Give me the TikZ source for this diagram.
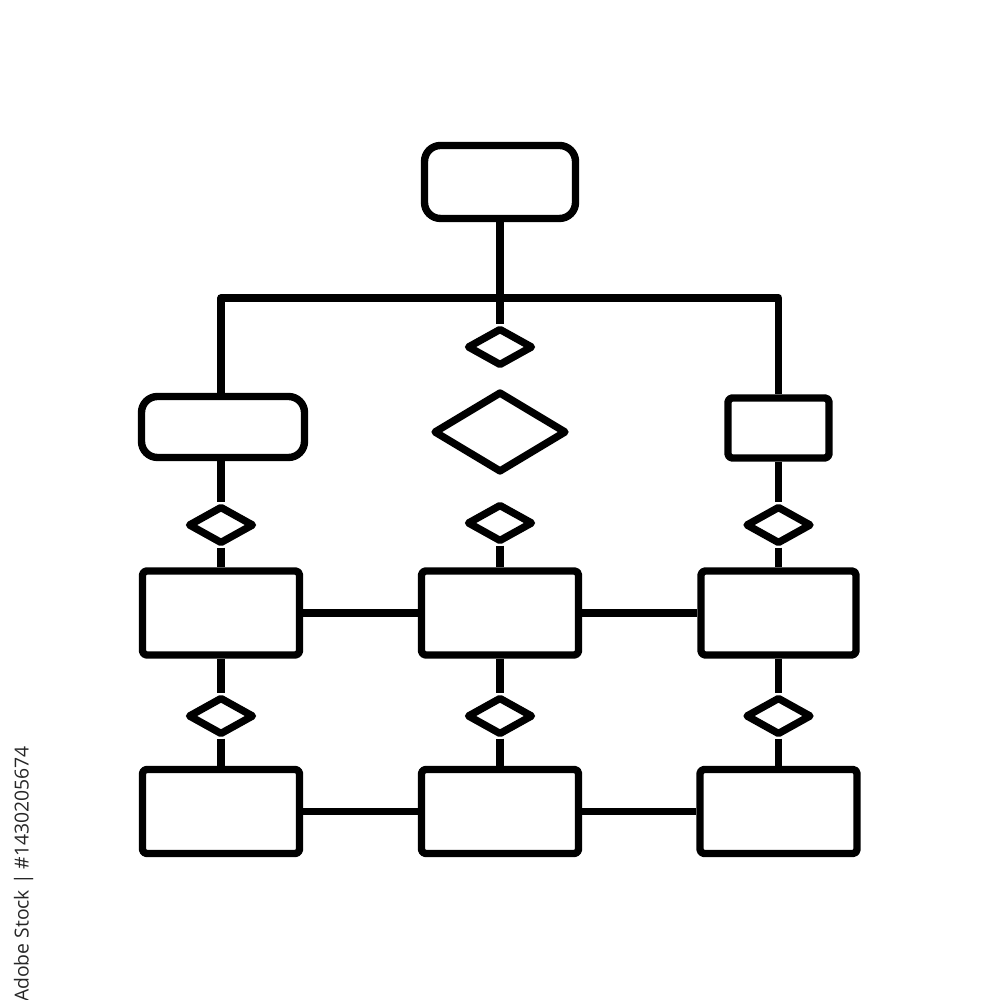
\documentclass[tikz,border=0pt]{standalone}
\usepackage{fontspec}
\setsansfont{Open Sans}
\usetikzlibrary{shapes.geometric}
\begin{document}
\begin{tikzpicture}[line width=2.1pt,line join=round,
	boite/.style={draw,rectangle,rounded corners=0.04cm,inner sep=0pt,minimum width=1.57cm,minimum height=0.84cm},
	arrondi/.style={draw,rectangle,rounded corners=0.16cm,inner sep=0pt},
	losange/.style={draw,diamond,inner sep=0pt,minimum width=0.66cm,minimum height=0.38cm}]
	\useasboundingbox (0,0) rectangle (10,10);
	\node[arrondi,minimum width=1.51cm,minimum height=0.73cm] (haut) at (5.00,8.18) {}; % le bloc du haut
	\node[arrondi,minimum width=1.63cm,minimum height=0.61cm] (gauche) at (2.23,5.73) {};
	\node[boite,minimum width=1.01cm,minimum height=0.60cm] (droite) at (7.785,5.72) {};
	\node[losange] (lhaut) at (5.00,6.53) {};
	\node[losange,minimum width=1.33cm,minimum height=0.81cm] (lgrand) at (5.00,5.68) {};
	\node[losange] (lmilieu) at (5.00,4.77) {};
	\node[losange] (lgauche) at (2.21,4.75) {};
	\node[losange] (ldroite) at (7.785,4.75) {};
	\node[boite] (b11) at (2.21,3.87) {}; % premiere rangee
	\node[boite] (b12) at (5.00,3.87) {};
	\node[boite,minimum width=1.55cm] (b13) at (7.785,3.87) {};
	\node[losange] (l21) at (2.21,2.84) {};
	\node[losange] (l22) at (5.00,2.84) {};
	\node[losange] (l23) at (7.785,2.84) {};
	\node[boite] (b21) at (2.21,1.885) {}; % deuxieme rangee
	\node[boite] (b22) at (5.00,1.885) {};
	\node[boite] (b23) at (7.785,1.885) {};
	\coordinate (barre) at (5.00,7.02); % la barre horizontale
	\draw (haut.south) -- (lhaut.north);
	\draw (gauche.north -| lgauche) |- (barre) -| (droite.north);
	\draw (gauche.south -| lgauche) -- (lgauche.north);
	\draw (lgauche.south) -- (b11.north);
	\draw (lmilieu.south) -- (b12.north);
	\draw (droite.south) -- (ldroite.north);
	\draw (ldroite.south) -- (b13.north);
	\draw (b11.east) -- (b12.west);
	\draw (b12.east) -- (b13.west);
	\draw (b11.south) -- (l21.north);
	\draw (l21.south) -- (b21.north);
	\draw (b12.south) -- (l22.north);
	\draw (l22.south) -- (b22.north);
	\draw (b13.south) -- (l23.north);
	\draw (l23.south) -- (b23.north);
	\draw (b21.east) -- (b22.west);
	\draw (b22.east) -- (b23.west);
	\node[rotate=90,text=black!85,inner sep=0pt] (credit) at (0.235,1.26) {\sffamily\fontsize{5.5}{6}\selectfont Adobe Stock | \#1430205674};
\end{tikzpicture}
\end{document}
